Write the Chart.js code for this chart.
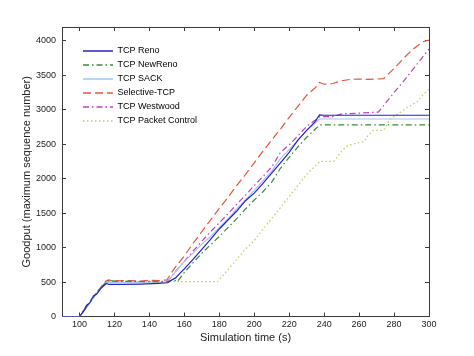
<!DOCTYPE html>
<html>
<head>
<meta charset="utf-8">
<script src="https://cdn.jsdelivr.net/npm/chart.js@4/dist/chart.umd.min.js"></script>
<style>
  html, body { margin: 0; padding: 0; background: #ffffff; }
  #wrap { width: 474px; height: 356px; }
</style>
</head>
<body>
<div id="wrap"><canvas id="c" width="474" height="356"></canvas></div>
<script>
// ---- Data ----
const seriesNames = ['TCP Reno', 'TCP NewReno', 'TCP SACK', 'Selective-TCP', 'TCP Westwood', 'TCP Packet Control'];

const renoTime = [90,100,101,103,104,106,108,110,112,114,115.5,117,125,135,145,150.5,152,155,158,160,165,170,175,180,185,190,195,200,205,210,215,220,225,230,235,237.3,240,300];
const renoGoodput = [0,0,30,100,160,200,300,330,400,450,480,465,465,470,480,490,520,560,640,690,830,975,1120,1270,1400,1530,1680,1790,1930,2080,2230,2380,2560,2700,2830,2925,2920,2920];

const newRenoTime = [90,100,104,108,112,116,120,130,140,150,152,154,156,160,165,170,175,180,185,190,195,200,205,210,215,220,225,230,235,237.5,300];
const newRenoGoodput = [0,0,140,280,410,520,515,510,505,500,520,530,505,640,780,920,1040,1160,1290,1420,1560,1690,1810,1950,2150,2310,2460,2600,2720,2780,2780];

const sackTime = [90,100,104,108,112,116,120,130,140,150,152,155,160,165,170,175,180,185,190,195,200,205,210,215,220,225,230,235,237.5,300];
const sackGoodput = [0,0,130,270,400,500,495,495,500,500,560,650,800,920,1050,1160,1290,1420,1560,1690,1830,1970,2110,2290,2420,2560,2700,2810,2865,2865];

const selectiveTime = [90,100,104,108,112,115,116.5,120,125,130,135,140,145,150,152,155,160,165,170,175,180,185,190,195,200,205,210,215,220,225,230,235,237.3,240,245,250,255,260,265,270,274,278,282,286,290,294,297,300];
const selectiveGoodput = [0,0,150,290,420,510,530,515,520,520,515,525,520,530,610,720,880,1060,1230,1400,1570,1730,1900,2060,2230,2400,2560,2720,2890,3050,3210,3320,3395,3370,3380,3420,3440,3445,3440,3445,3450,3550,3650,3760,3860,3940,3990,4010];

const westwoodTime = [90,100,104,108,112,116,120,130,140,150,152,154,160,165,170,175,180,185,190,195,200,205,210,215,220,225,230,235,237.5,245,250,260,271,275,280,285,290,295,300];
const westwoodGoodput = [0,0,140,280,410,515,510,505,510,510,560,625,800,950,1090,1230,1360,1490,1630,1760,1900,2030,2170,2380,2490,2620,2760,2850,2900,2900,2940,2950,2965,3090,3250,3400,3560,3720,3880];

const packetTime = [90,100,104,108,112,116,120,130,140,150,160,170,179,185,190,195,200,205,210,215,220,225,230,237.5,241,245.5,250,253.5,258,263,265,268,274,278,283,288,293,297,300];
const packetGoodput = [0,0,130,270,400,505,505,505,505,505,505,505,505,680,830,980,1100,1270,1420,1580,1740,1900,2060,2250,2250,2250,2400,2480,2510,2540,2620,2700,2700,2870,2950,3040,3110,3230,3300];

const xTickValues = [100,120,140,160,180,200,220,240,260,280,300];
const yTickValues = [0,500,1000,1500,2000,2500,3000,3500,4000];

const xLabel = 'Simulation time (s)';
const yLabel = 'Goodput (maximum sequence number)';

// ---- Build chart ----
function pts(t, v) { return t.map((x, i) => ({ x: x, y: v[i] })); }

const styles = [
  { color: '#2323c8', dash: [] },
  { color: '#3a8c3a', dash: [6, 3, 1.5, 3] },
  { color: '#a6c4ee', dash: [] },
  { color: '#e2553c', dash: [8, 4] },
  { color: '#c23fc6', dash: [6, 3, 1.5, 3] },
  { color: '#c6ca5a', dash: [1.5, 2.5] }
];
const seriesData = [
  pts(renoTime, renoGoodput),
  pts(newRenoTime, newRenoGoodput),
  pts(sackTime, sackGoodput),
  pts(selectiveTime, selectiveGoodput),
  pts(westwoodTime, westwoodGoodput),
  pts(packetTime, packetGoodput)
];

const datasets = seriesNames.map((name, i) => ({
  label: name,
  data: seriesData[i],
  borderColor: styles[i].color,
  backgroundColor: styles[i].color,
  borderDash: styles[i].dash,
  borderWidth: 1.2,
  pointRadius: 0,
  fill: false,
  tension: 0,
  xAxisID: 'x',
  yAxisID: 'y'
}));

Chart.defaults.font.family = '"Liberation Sans", Arial, sans-serif';
Chart.defaults.color = '#222';

const axisColor = '#3a3a3a';
function setTicks(values) {
  return function (scale) { scale.ticks = values.map(v => ({ value: v })); };
}
const plainLabel = v => String(v);
const tickFont = { size: 9 };

const legendShift = {
  id: 'legendShift',
  beforeDraw(chart) {
    const lg = chart.legend;
    if (lg) {
      lg.left = chart.chartArea.left + 16;
      lg.top = chart.chartArea.top + 14.5;
    }
  }
};

new Chart(document.getElementById('c'), {
  type: 'line',
  data: { datasets: datasets },
  options: {
    responsive: false,
    animation: false,
    events: [],
    layout: { padding: 0 },
    plugins: {
      tooltip: { enabled: false },
      legend: {
        position: 'chartArea',
        align: 'start',
        labels: {
          usePointStyle: true,
          pointStyleWidth: 30,
          boxHeight: 6,
          padding: 5,
          font: { size: 9 },
          color: '#222',
          generateLabels(chart) {
            return chart.data.datasets.map((ds, i) => ({
              text: ds.label,
              strokeStyle: ds.borderColor,
              fillStyle: ds.borderColor,
              lineDash: ds.borderDash,
              lineWidth: 1.5,
              pointStyle: 'line',
              hidden: false,
              datasetIndex: i
            }));
          }
        }
      }
    },
    scales: {
      x: {
        type: 'linear', position: 'bottom', min: 90, max: 300,
        afterBuildTicks: setTicks(xTickValues),
        afterFit(s) { s.height = 39.5; },
        grid: { drawOnChartArea: false, drawTicks: true, tickLength: -4, color: axisColor },
        border: { display: true, color: axisColor, width: 1 },
        ticks: { font: tickFont, padding: 7, maxRotation: 0, autoSkip: false, color: '#222', callback: plainLabel },
        title: { display: true, text: xLabel, font: { size: 11 }, color: '#222', padding: { top: 0, bottom: 11 } }
      },
      x2: {
        type: 'linear', position: 'top', min: 90, max: 300,
        afterBuildTicks: setTicks(xTickValues),
        afterFit(s) { s.height = 27; },
        grid: { drawOnChartArea: false, drawTicks: true, tickLength: -4, color: axisColor },
        border: { display: true, color: axisColor, width: 1 },
        ticks: { display: false }
      },
      y: {
        type: 'linear', position: 'left', min: 0, max: 4200,
        afterBuildTicks: setTicks(yTickValues),
        afterFit(s) { s.width = 62; },
        grid: { drawOnChartArea: false, drawTicks: true, tickLength: -4, color: axisColor },
        border: { display: true, color: axisColor, width: 1 },
        ticks: { font: tickFont, padding: 10, autoSkip: false, color: '#222', callback: plainLabel },
        title: { display: true, text: yLabel, font: { size: 11 }, color: '#222', padding: { top: 20.4, bottom: 0 } }
      },
      y2: {
        type: 'linear', position: 'right', min: 0, max: 4200,
        afterBuildTicks: setTicks(yTickValues),
        afterFit(s) { s.width = 45; },
        grid: { drawOnChartArea: false, drawTicks: true, tickLength: -4, color: axisColor },
        border: { display: true, color: axisColor, width: 1 },
        ticks: { display: false }
      }
    }
  },
  plugins: [legendShift]
});
</script>
</body>
</html>
